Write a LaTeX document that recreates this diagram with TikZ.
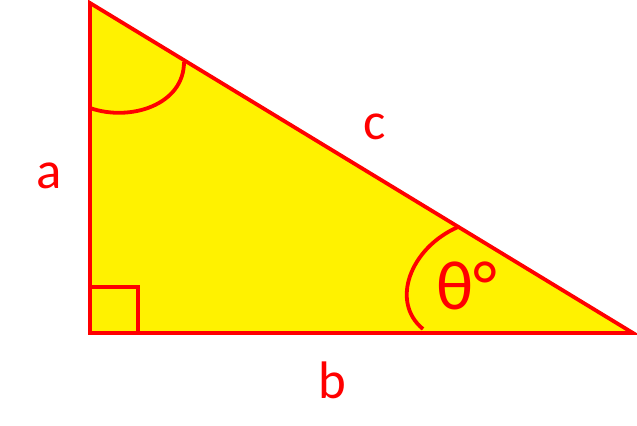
\documentclass[tikz,border=0pt]{standalone}
\usepackage{fontspec}
\setmainfont{Carlito}
\begin{document}
\begin{tikzpicture}[x=1bp,y=-1bp,
  edge/.style={draw=red,line width=3.8bp,line join=miter},
  lbl/.style={text=red,font=\fontsize{53}{60}\selectfont,inner sep=0pt}]
\useasboundingbox (0,0) rectangle (637,425);
\coordinate (A) at (90,3);
\coordinate (B) at (90,333);
\coordinate (C) at (633,333);
\fill[yellow] (A) -- (B) -- (C) -- cycle;
\draw[edge] (B) ++(0,-46) coordinate (S1) -- ++(48,0) coordinate (S2) -- ++(0,46) coordinate (S3);
\draw[edge] (90,108) coordinate (T1) .. controls (130,122) and (184,105) .. (184,62) coordinate (T2);
\draw[edge] (458,227) coordinate (R1) .. controls (410,248) and (390,302) .. (423,329) coordinate (R2);
\draw[edge] (A) -- (B) -- (C) -- cycle;
\node[lbl] (la) at (49,176) {a};
\node[lbl] (lb) at (332,380) {b};
\node[lbl] (lc) at (375,127) {c};
\node[lbl,font=\fontsize{70}{80}\selectfont] (lt) at (467,286) {θ°};
\end{tikzpicture}
\end{document}
